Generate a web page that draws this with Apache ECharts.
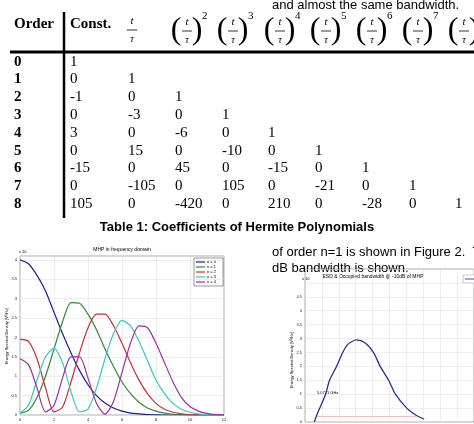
<!DOCTYPE html>
<html><head><meta charset="utf-8">
<script src="https://cdn.jsdelivr.net/npm/echarts@6/dist/echarts.min.js"></script>
<style>html,body{margin:0;padding:0;background:#fff}#c{width:474px;height:424px}</style>
</head><body><div id="c"></div>
<script>
// ---- table data ----
const orders = [0,1,2,3,4,5,6,7,8];
const coefs = [[1],[0,1],[-1,0,1],[0,-3,0,1],[3,0,-6,0,1],[0,15,0,-10,0,1],[-15,0,45,0,-15,0,1],[0,-105,0,105,0,-21,0,1],[105,0,-420,0,210,0,-28,0,1]];
const powers = [2,3,4,5,6,7,8];
// ---- left chart data ----
const freqX = [0,0.5,1,1.5,2,2.5,3,3.5,4,4.5,5,5.5,6,6.5,7,7.5,8,8.5,9,9.5,10,10.5,11,11.5,12];
const esdN0 = [4.0,3.9,3.6,3.2,2.65,2.1,1.6,1.15,0.78,0.5,0.31,0.18,0.1,0.05,0.03,0.01,0.005,0,0,0,0,0,0,0,0];
const esdN1 = [0.05,0.12,0.45,1.0,1.7,2.4,2.9,2.88,2.6,2.2,1.7,1.25,0.85,0.55,0.33,0.18,0.1,0.05,0.02,0.01,0,0,0,0,0];
const esdN2 = [1.95,1.9,1.45,0.7,0.08,0.2,0.85,1.6,2.25,2.6,2.6,2.3,1.85,1.35,0.9,0.55,0.3,0.15,0.07,0.03,0.01,0,0,0,0];
const esdN3 = [0.05,0.25,0.9,1.5,1.72,1.35,0.6,0.08,0.15,0.7,1.45,2.1,2.44,2.3,1.9,1.4,0.9,0.55,0.3,0.15,0.07,0.03,0.01,0,0];
const esdN4 = [1.45,1.3,0.7,0.08,0.25,0.95,1.5,1.5,0.95,0.3,0.02,0.35,1.1,1.85,2.3,2.25,1.85,1.35,0.85,0.45,0.22,0.1,0.04,0.01,0];
const legendNames = ['n = 0','n = 1','n = 2','n = 3','n = 4'];
// ---- right chart data ----
const bwX = [0.55,0.7,1.22,1.45,1.87,2.23,2.55,3.04,3.55,4.05,4.45,4.95,5.35,6.02,6.55,7.05];
const bwY = [0,0.25,1.0,1.5,2.0,2.5,2.8,2.95,2.85,2.5,2.0,1.5,1.0,0.5,0.25,0.1];
const bwLine = [[0.7,0.2],[6.55,0.2]];

const colors = ['#1c1f8f','#2f8a35','#c2303c','#3cc4c4','#a02ea3'];
const serif = '"Liberation Serif","DejaVu Serif",serif';
const sans = '"Liberation Sans",Arial,sans-serif';

const g = [];
function txt(x,y,s,o,rot){const e={type:'text',x:x,y:y,style:Object.assign({text:s,fill:'#000',font:'15px '+serif,textVerticalAlign:'middle'},o||{})};if(rot)e.rotation=rot;g.push(e);}
function line(x1,y1,x2,y2,w,c){g.push({type:'line',shape:{x1,y1,x2,y2},style:{stroke:c||'#000',lineWidth:w}});}

txt(272,5,'and almost the same bandwidth.',{font:'13px '+sans});
txt(14,24,'Order',{font:'bold 15px '+serif});
txt(70,24,'Const.',{font:'bold 15px '+serif});
txt(132,21,'t',{font:'italic 11px '+serif,textAlign:'center'});
line(127,30,137,30,0.8);
txt(132,39,'τ',{font:'italic 10px '+serif,textAlign:'center'});
const colCx=[187,233,280,326,372,418,464];
powers.forEach((p,i)=>{const cx=colCx[i];
  txt(cx-11,31,'(',{font:'32px '+serif,textAlign:'center'});
  txt(cx+10,31,')',{font:'32px '+serif,textAlign:'center'});
  txt(cx,22,'t',{font:'italic 11px '+serif,textAlign:'center'});
  line(cx-5,31,cx+5,31,0.8);
  txt(cx,40,'τ',{font:'italic 10px '+serif,textAlign:'center'});
  txt(cx+15,16,String(p),{font:'11px '+serif});
});
line(10,52,474,52,3);
line(64,12,64,218,2.5);
const rowY=[62,79.5,97,115,133,151,168.5,186,204];
const colX=[70,128,175,222,268,315,362,409,455];
orders.forEach((o,r)=>{
  txt(14,rowY[r],String(o),{font:'bold 15px '+serif});
  coefs[r].forEach((v,c)=>txt(colX[c],rowY[r],String(v)));
});
txt(237,227,'Table 1: Coefficients of Hermite Polynomials',{font:'bold 13px '+sans,textAlign:'center'});
txt(272,252,'of order n=1 is shown in Figure 2.  T',{font:'13px '+sans});
txt(272,268,'dB bandwidth is shown.',{font:'13px '+sans});
txt(122,250,'MHP in frequency domain',{font:'5px '+sans,textAlign:'center'});
txt(19,252,'x 10',{font:'4px '+sans});
txt(7,336,'Energy Spectral Density [V²/Hz]',{font:'4px '+sans,textAlign:'center'},Math.PI/2);
g.push({type:'rect',shape:{x:194,y:258,width:29,height:28},style:{fill:'#fff',stroke:'#333',lineWidth:0.5}});
legendNames.forEach((n,i)=>{line(196,262+i*5,205,262+i*5,1.2,colors[i]);txt(207,262+i*5,n,{font:'4px '+sans});});
txt(373,277,'ESD & Occupied bandwidth @ -10dB of MHP',{font:'5px '+sans,textAlign:'center'});
txt(302,279,'x 10',{font:'4px '+sans});
txt(292,360,'Energy Spectral Density [V²/Hz]',{font:'4px '+sans,textAlign:'center'},Math.PI/2);
g.push({type:'rect',shape:{x:463,y:275,width:14,height:8},style:{fill:'#fff',stroke:'#999',lineWidth:0.5}});
line(465,279,474,279,1.2,'#6a6aa8');
txt(317,393,'5.0771 GHz',{font:'4px '+sans});

const axLbl={fontSize:4,color:'#222',fontFamily:sans,margin:3};
const grid={show:true,borderColor:'#555',borderWidth:0.5};
function pairs(xs,ys){return xs.map((x,i)=>[x,ys[i]]);}
const esd=[esdN0,esdN1,esdN2,esdN3,esdN4];
const chart=echarts.init(document.getElementById('c'));
chart.setOption({
  animation:false,
  grid:[Object.assign({left:20,right:250,top:256,bottom:9},grid),Object.assign({left:305,right:-16,top:269,bottom:-8},grid)],
  xAxis:[
    {gridIndex:0,type:'value',min:0,max:12,interval:2,axisLabel:axLbl,axisLine:{show:false},axisTick:{show:false},splitLine:{lineStyle:{color:'#ddd',width:0.5}}},
    {gridIndex:1,type:'value',min:0,max:10,interval:1,axisLabel:{show:false},axisLine:{show:false},axisTick:{show:false},splitLine:{lineStyle:{color:'#ddd',width:0.5}}}
  ],
  yAxis:[
    {gridIndex:0,type:'value',min:0,max:4.1,interval:0.5,axisLabel:Object.assign({},axLbl,{showMaxLabel:false}),axisLine:{show:false},axisTick:{show:false},splitLine:{lineStyle:{color:'#ddd',width:0.5}}},
    {gridIndex:1,type:'value',min:0,max:5.5,interval:0.5,axisLabel:Object.assign({},axLbl,{formatter:v=>v>4.6?'':String(v)}),axisLine:{show:false},axisTick:{show:false},splitLine:{lineStyle:{color:'#ddd',width:0.5}}}
  ],
  series:esd.map((d,i)=>({type:'line',xAxisIndex:0,yAxisIndex:0,data:pairs(freqX,d),smooth:0.25,symbol:'none',lineStyle:{color:colors[i],width:1.2}})).concat([
    {type:'line',xAxisIndex:1,yAxisIndex:1,data:pairs(bwX,bwY),smooth:0.25,symbol:'none',lineStyle:{color:'#2a2f8a',width:1.3}},
    {type:'line',xAxisIndex:1,yAxisIndex:1,data:bwLine,symbol:'none',lineStyle:{color:'#f0b8c0',width:1}}
  ]),
  graphic:g
});
</script></body></html>
